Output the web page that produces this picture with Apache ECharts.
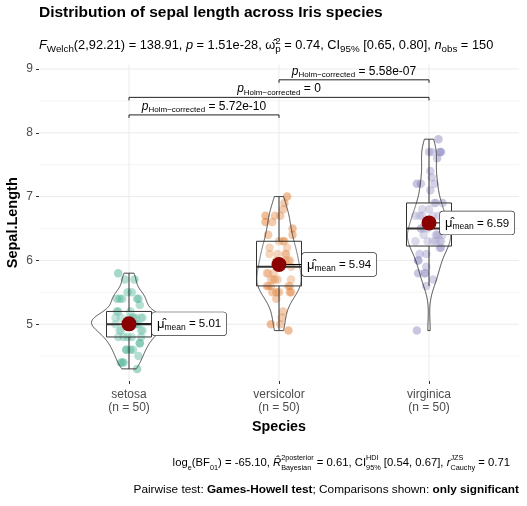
<!DOCTYPE html>
<html><head><meta charset="utf-8">
<script src="https://cdn.jsdelivr.net/npm/echarts@6/dist/echarts.min.js"></script>
<style>html,body{margin:0;padding:0;background:#fff}#c{width:527px;height:506px}</style>
</head><body><div id="c"></div>
<script>
// ---------------- data ----------------
const categories = ['setosa', 'versicolor', 'virginica'];
const setosa = [5.1,4.9,4.7,4.6,5.0,5.4,4.6,5.0,4.4,4.9,5.4,4.8,4.8,4.3,5.8,5.7,5.4,5.1,5.7,5.1,5.4,5.1,4.6,5.1,4.8,5.0,5.0,5.2,5.2,4.7,4.8,5.4,5.2,5.5,4.9,5.0,5.5,4.9,4.4,5.1,5.0,4.5,4.4,5.0,5.1,4.8,5.1,4.6,5.3,5.0];
const versicolor = [7.0,6.4,6.9,5.5,6.5,5.7,6.3,4.9,6.6,5.2,5.0,5.9,6.0,6.1,5.6,6.7,5.6,5.8,6.2,5.6,5.9,6.1,6.3,6.1,6.4,6.6,6.8,6.7,6.0,5.7,5.5,5.5,5.8,6.0,5.4,6.0,6.7,6.3,5.6,5.5,5.5,6.1,5.8,5.0,5.6,5.7,5.7,6.2,5.1,5.7];
const virginica = [6.3,5.8,7.1,6.3,6.5,7.6,4.9,7.3,6.7,7.2,6.5,6.4,6.8,5.7,5.8,6.4,6.5,7.7,7.7,6.0,6.9,5.6,7.7,6.3,6.7,7.2,6.2,6.1,6.4,7.2,7.4,7.9,6.4,6.3,6.1,7.7,6.3,6.4,6.0,6.9,6.7,6.9,5.8,6.8,6.7,6.7,6.3,6.5,6.2,5.9];
const yTickValues = [5, 6, 7, 8, 9];
const yGridValues = [4.5, 5, 5.5, 6, 6.5, 7, 7.5, 8, 8.5, 9];
const bracketFrom = [0, 0, 1];
const bracketTo = [1, 2, 2];
const bracketY = [8.28, 8.555, 8.83];
const bracketP = ['5.72e-10', '0', '5.58e-07'];
// fixed horizontal jitter offsets (category units)
const jitterOffsets = [0.03,-0.06,0.08,-0.02,0.05,-0.09,0.01,0.07,-0.04,0.09,-0.07,0.02,-0.01,0.06,-0.08,0.04,-0.05,0.10,-0.03,0.00,0.07,-0.10,0.03,-0.06,0.09,-0.02,0.05,-0.08,0.01,0.08,-0.04,0.06,-0.09,0.02,-0.07,0.04,-0.01,0.10,-0.05,0.03,-0.03,0.07,-0.06,0.00,0.09,-0.08,0.05,-0.02,0.08,-0.10];

// ---------------- style ----------------
const groups = [setosa, versicolor, virginica];
const groupColors = ['#1B9E77', '#D95F02', '#7570B3'];
const FONT = 'Liberation Sans';
const labelGap = [23, 23, 11];

// ---------------- stats ----------------
function mean(a){return a.reduce((s,v)=>s+v,0)/a.length;}
function sd(a){const m=mean(a);return Math.sqrt(a.reduce((s,v)=>s+(v-m)*(v-m),0)/(a.length-1));}
function q7(a,p){const s=[...a].sort((x,y)=>x-y);const h=(s.length-1)*p;const lo=Math.floor(h);const hi=Math.min(lo+1,s.length-1);return s[lo]+(h-lo)*(s[hi]-s[lo]);}
function kde(a){
  const n=a.length;
  const bw=0.9*Math.min(sd(a),(q7(a,.75)-q7(a,.25))/1.34)*Math.pow(n,-0.2);
  const lo=Math.min(...a), hi=Math.max(...a); const N=256; const out=[];
  for(let k=0;k<N;k++){const y=lo+(hi-lo)*k/(N-1);let d=0;for(const v of a){const z=(y-v)/bw;d+=Math.exp(-0.5*z*z);}out.push([y,d/(n*bw*Math.sqrt(2*Math.PI))]);}
  return out;
}
const stats = groups.map(a=>{
  const q1=q7(a,.25), q3=q7(a,.75), iqr=q3-q1;
  const upW=Math.max(...a.filter(v=>v<=q3+1.5*iqr));
  const lowW=Math.min(...a.filter(v=>v>=q1-1.5*iqr));
  return {mean:mean(a), q1, med:q7(a,.5), q3, upW, lowW, dens:kde(a), n:a.length};
});
const maxDens = Math.max(...stats.map(s=>Math.max(...s.dens.map(d=>d[1]))));

// ---------------- chart ----------------
const chart = echarts.init(document.getElementById('c'), null, {renderer:'canvas'});

function mk(fs, lh, extra){return Object.assign({fontSize:fs, lineHeight:lh, fontFamily:FONT, fontWeight:'normal', color:'#000'}, extra||{});}
// subtitle styles
const subT = {n:mk(12.8,18), i:mk(12.8,18,{fontStyle:'italic'}), s:mk(9.8,10,{verticalAlign:'bottom'}), sp:mk(9.8,10,{verticalAlign:'top',width:0.01})};
// caption styles (line 1)
const capT = {n:mk(11.3,17), i:mk(11.3,17,{fontStyle:'italic'}), s:mk(7.3,9,{verticalAlign:'bottom'}),
  sz:mk(7.3,9,{verticalAlign:'bottom',width:0.01}), sp:mk(7.3,9,{verticalAlign:'top'}),
  spz:mk(7.3,9,{verticalAlign:'top',width:0.01})};
// caption styles (line 2)
const capT2 = {n:mk(11.8,17), b:mk(11.8,17,{fontWeight:'bold'})};
const plainTS = {fontWeight:'normal', fontFamily:FONT, color:'#000', fontSize:12};

const option = {
  backgroundColor:'#fff',
  animation:false,
  title:[
    {text:'Distribution of sepal length across Iris species', left:39, top:5, padding:0,
     textStyle:{fontFamily:FONT, fontSize:15.5, fontWeight:'bold', color:'#000'}},
    {text:'{i|F}{s|Welch}{n|(2,92.21) = 138.91, }{i|p}{n| = 1.51e-28, }{n|\u03C9\u0302}{sp|2}{s|p}{n| = 0.74, CI}{s|95%}{n| [0.65, 0.80], }{i|n}{s|obs}{n| = 150}',
     left:39, top:36, padding:0, textStyle:Object.assign({rich:subT}, plainTS)},
    {text:'{n|log}{s|e}{n|(BF}{s|01}{n|) = -65.10, }{i|R\u0302}{sz|Bayesian}{sp|2posterior}{n| = 0.61, CI}{spz|HDI}{s|95%}{n| [0.54, 0.67], }{i|r}{spz|JZS}{s|Cauchy}{n| = 0.71}',
     right:17, top:454, padding:0, textStyle:Object.assign({rich:capT}, plainTS)},
    {text:'{n|Pairwise test: }{b|Games-Howell test}{n|; Comparisons shown: }{b|only significant}',
     right:8, top:481, padding:0, textStyle:Object.assign({rich:capT2}, plainTS)}
  ],
  grid:{left:39, right:8, top:64.5, bottom:125, containLabel:false, outerBoundsMode:'none'},
  xAxis:{type:'value', min:-0.6, max:2.6,
    axisLine:{show:false, onZero:false}, splitLine:{show:false},
    axisTick:{show:true, customValues:[0,1,2], length:3, lineStyle:{color:'#333', width:1}},
    axisLabel:{customValues:[0,1,2], color:'#4D4D4D', fontSize:12, lineHeight:13, margin:7, fontFamily:FONT,
      formatter:v=>{const g=Math.round(v);return categories[g]+'\n(n = '+stats[g].n+')';}},
    name:'Species', nameLocation:'middle', nameGap:39, nameMoveOverlap:false,
    nameTextStyle:{fontFamily:FONT, fontSize:14.3, fontWeight:'bold', color:'#000'}},
  yAxis:{type:'value', min:4.11, max:9.07,
    axisLine:{show:false, onZero:false}, splitLine:{show:false},
    axisTick:{show:true, customValues:yTickValues, length:3, lineStyle:{color:'#333', width:1}},
    axisLabel:{customValues:yTickValues, color:'#4D4D4D', fontSize:12, margin:6, fontFamily:FONT},
    name:'Sepal.Length', nameLocation:'middle', nameRotate:90, nameGap:19, nameMoveOverlap:false,
    nameTextStyle:{fontFamily:FONT, fontSize:14.5, fontWeight:'bold', color:'#000'}},
  series:[
    // horizontal gridlines
    {type:'custom', z:0, silent:true, clip:false,
     data:yGridValues.map(v=>[0,v]),
     renderItem:(params,api)=>{const cs=params.coordSys;const y=api.coord([0,api.value(1)])[1];
       const major=Number.isInteger(api.value(1));
       return {type:'line', shape:{x1:cs.x,y1:y,x2:cs.x+cs.width,y2:y}, style:{stroke:major?'#EBEBEB':'#F4F4F4', lineWidth:1}};}},
    // vertical gridlines
    {type:'custom', z:0, silent:true, clip:false,
     data:categories.map((c,g)=>[g,5]),
     renderItem:(params,api)=>{const cs=params.coordSys;const x=api.coord([api.value(0),5])[0];
       return {type:'line', shape:{x1:x,y1:cs.y,x2:x,y2:cs.y+cs.height}, style:{stroke:'#EBEBEB', lineWidth:1}};}},
    // jittered points
    ...groups.map((a,g)=>({type:'scatter', z:2, silent:true, symbolSize:8.5,
      itemStyle:{color:groupColors[g], opacity:0.4},
      data:a.map((v,k)=>[g+0.9*jitterOffsets[(k+13*g)%jitterOffsets.length], v])})),
    // violins
    {type:'custom', z:3, silent:true,
     data:stats.map((s,g)=>[g,s.med]),
     renderItem:(params,api)=>{const g=api.value(0);const d=stats[g].dens;const pts=[];
       for(const [y,v] of d) pts.push(api.coord([g+0.25*v/maxDens,y]));
       for(let k=d.length-1;k>=0;k--){const [y,v]=d[k];pts.push(api.coord([g-0.25*v/maxDens,y]));}
       return {type:'polygon', shape:{points:pts}, style:{fill:'rgba(255,255,255,0.2)', stroke:'#333', lineWidth:0.9}};}},
    // boxplots
    {type:'custom', z:4, silent:true,
     data:stats.map((s,g)=>[g,s.med]),
     renderItem:(params,api)=>{const g=api.value(0);const s=stats[g];
       const tl=api.coord([g-0.15,s.q3]), br=api.coord([g+0.15,s.q1]);
       const ml=api.coord([g-0.15,s.med]), mr=api.coord([g+0.15,s.med]);
       const a1=api.coord([g,s.q3]), a2=api.coord([g,s.upW]), b1=api.coord([g,s.q1]), b2=api.coord([g,s.lowW]);
       return {type:'group', children:[
         {type:'line', shape:{x1:a1[0],y1:a1[1],x2:a2[0],y2:a2[1]}, style:{stroke:'#333', lineWidth:1}},
         {type:'line', shape:{x1:b1[0],y1:b1[1],x2:b2[0],y2:b2[1]}, style:{stroke:'#333', lineWidth:1}},
         {type:'rect', shape:{x:tl[0],y:tl[1],width:br[0]-tl[0],height:br[1]-tl[1]}, style:{fill:'rgba(255,255,255,0.2)', stroke:'#333', lineWidth:1}},
         {type:'line', shape:{x1:ml[0],y1:ml[1],x2:mr[0],y2:mr[1]}, style:{stroke:'#333', lineWidth:2}}
       ]};}},
    // label segments
    {type:'custom', z:5, silent:true,
     data:stats.map((s,g)=>[g,s.mean]),
     renderItem:(params,api)=>{const g=api.value(0);const p=api.coord([g,api.value(1)]);
       return {type:'line', shape:{x1:p[0],y1:p[1],x2:p[0]+labelGap[g],y2:p[1]}, style:{stroke:'#000', lineWidth:1}};}},
    // mean points + labels
    {type:'scatter', z:6, silent:true, symbolSize:15,
     itemStyle:{color:'#8B0000', opacity:1},
     data:stats.map((s,g)=>({value:[g,s.mean], label:{distance:labelGap[g]-7.5}})),
     label:{show:true, position:'right', backgroundColor:'#fff', borderColor:'#333', borderWidth:0.7, borderRadius:3, padding:[4,5,3,5],
       formatter:p=>'{mu|\u03BC\u0302}{sub|mean}{n| = '+p.value[1].toFixed(2)+'}',
       rich:{mu:{fontSize:13,lineHeight:16,fontFamily:FONT,color:'#000'},
             sub:{fontSize:8.5,lineHeight:9,verticalAlign:'bottom',fontFamily:FONT,color:'#000'},
             n:{fontSize:11.5,lineHeight:16,fontFamily:FONT,color:'#000'}}}},
    // significance brackets
    {type:'custom', z:7, silent:true, clip:false,
     data:bracketY.map((y,k)=>[bracketFrom[k],y,bracketTo[k]]),
     renderItem:(params,api)=>{const k=params.dataIndex;
       const p1=api.coord([api.value(0),api.value(1)]), p2=api.coord([api.value(2),api.value(1)]);
       return {type:'group', children:[
         {type:'polyline', shape:{points:[[p1[0],p1[1]+3],[p1[0],p1[1]],[p2[0],p2[1]],[p2[0],p2[1]+3]]}, style:{stroke:'#222', fill:null, lineWidth:1}},
         {type:'text', x:(p1[0]+p2[0])/2, y:p1[1]-1,
          style:{text:'{i|p}{s|Holm\u2212corrected}{n| = '+bracketP[k]+'}', align:'center', verticalAlign:'bottom',
            rich:{i:{fontSize:12,lineHeight:15,fontStyle:'italic',fontFamily:FONT,fill:'#000',color:'#000'},
                  s:{fontSize:8,lineHeight:9,verticalAlign:'bottom',fontFamily:FONT,fill:'#000',color:'#000'},
                  n:{fontSize:12,lineHeight:15,fontFamily:FONT,fill:'#000',color:'#000'}}}}
       ]};}}
  ]
};
chart.setOption(option);
</script>
</body></html>
